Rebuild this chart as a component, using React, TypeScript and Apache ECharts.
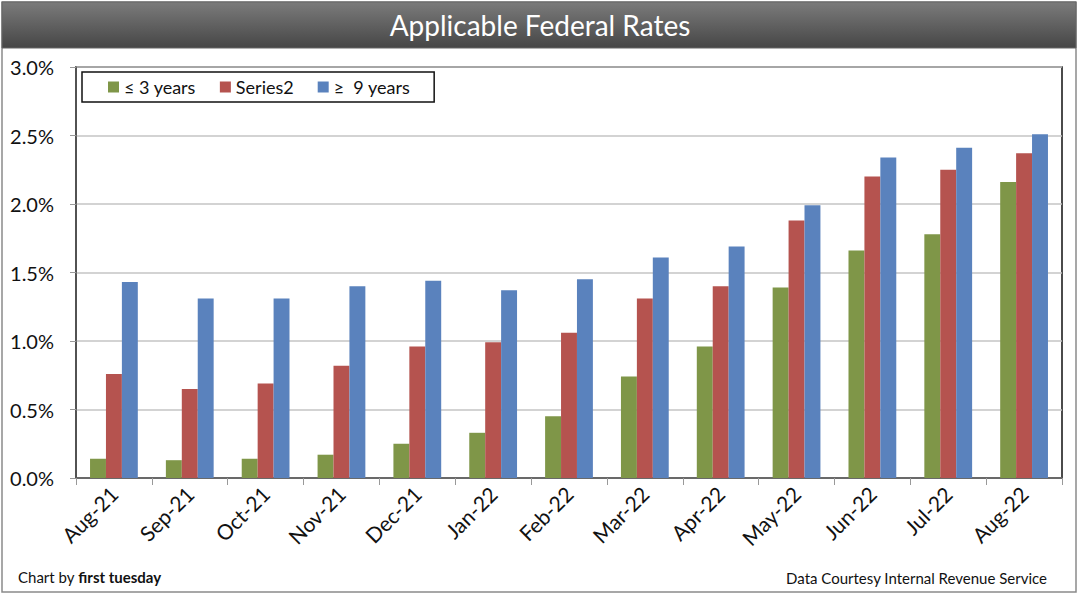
import React, { useEffect, useRef } from "react";
import * as echarts from "echarts";

const categories = ["Aug-21", "Sep-21", "Oct-21", "Nov-21", "Dec-21", "Jan-22", "Feb-22", "Mar-22", "Apr-22", "May-22", "Jun-22", "Jul-22", "Aug-22"];
const shortTerm = [0.14, 0.13, 0.14, 0.17, 0.25, 0.33, 0.45, 0.74, 0.96, 1.39, 1.66, 1.78, 2.16];
const midTerm = [0.76, 0.65, 0.69, 0.82, 0.96, 0.99, 1.06, 1.31, 1.40, 1.88, 2.20, 2.25, 2.37];
const longTerm = [1.43, 1.31, 1.31, 1.40, 1.44, 1.37, 1.45, 1.61, 1.69, 1.99, 2.34, 2.41, 2.51];
const seriesNames = ["≤ 3 years", "Series2", "≥  9 years"];
const colors = ["#7f9648", "#b5534f", "#5a82bd"];

const FONT = "Lato, 'Open Sans', sans-serif";

export default function App() {
  const ref = useRef<HTMLDivElement>(null);
  useEffect(() => {
    document.body.style.margin = "0";
    const chart = echarts.init(ref.current!, null, { renderer: "svg" });
    const data = [shortTerm, midTerm, longTerm];
    chart.setOption({
      animation: false,
      backgroundColor: "#ffffff",
      textStyle: { fontFamily: FONT },
      grid: { left: 76, right: 18, top: 67, bottom: 118, show: true, borderColor: "#111", borderWidth: 1.5, backgroundColor: "transparent" },
      legend: {
        left: 82,
        top: 72,
        itemWidth: 11,
        itemHeight: 11,
        itemGap: 24,
        padding: [6, 24, 6, 26],
        borderColor: "#111",
        borderWidth: 1.5,
        backgroundColor: "#fff",
        icon: "rect",
        textStyle: { fontSize: 18, color: "#111", fontFamily: FONT },
        data: seriesNames,
      },
      xAxis: {
        type: "category",
        data: categories,
        axisLine: { lineStyle: { color: "#555", width: 1.5 } },
        axisTick: { show: true, length: 7, lineStyle: { color: "#999" } },
        axisLabel: { rotate: 45, fontSize: 21, color: "#111", margin: 12, interval: 0, fontFamily: FONT },
      },
      yAxis: {
        type: "value",
        min: 0,
        max: 3,
        interval: 0.5,
        axisLine: { show: true, lineStyle: { color: "#555", width: 1.5 } },
        axisTick: { show: true, length: 6, lineStyle: { color: "#999" } },
        splitLine: { lineStyle: { color: "#c4c4c4", width: 1.5 } },
        axisLabel: { fontSize: 20, color: "#111", margin: 22, formatter: (v: number) => v.toFixed(1) + "%", fontFamily: FONT },
      },
      series: seriesNames.map((name, i) => ({
        name,
        type: "bar",
        data: data[i],
        barGap: "0%",
        barCategoryGap: "37%",
        itemStyle: { color: colors[i] },
      })),
      graphic: [
        {
          type: "rect",
          z: 100,
          shape: { x: 2, y: 2, width: 1074, height: 46 },
          style: {
            fill: new echarts.graphic.LinearGradient(0, 0, 0, 1, [
              { offset: 0, color: "#7b7b7b" },
              { offset: 1, color: "#464646" },
            ]),
            stroke: "#666",
            lineWidth: 1,
          },
        },
        {
          type: "text",
          z: 101,
          x: 540,
          y: 25,
          style: { text: "Applicable Federal Rates", fill: "#fff", font: `28px ${FONT}`, align: "center", verticalAlign: "middle" },
        },
        {
          type: "rect",
          z: 99,
          shape: { x: 2, y: 2, width: 1074, height: 590 },
          style: { fill: "none", stroke: "#8a8a8a", lineWidth: 1.5 },
        },
        {
          type: "text",
          z: 101,
          x: 18,
          y: 577,
          style: {
            text: "{n|Chart by }{b|first tuesday}",
            verticalAlign: "middle",
            rich: {
              n: { fontSize: 15, fontFamily: FONT, fill: "#111" },
              b: { fontSize: 15, fontFamily: FONT, fontWeight: "bold", fill: "#111" },
            },
          },
        },
        {
          type: "text",
          z: 101,
          x: 1047,
          y: 578,
          style: { text: "Data Courtesy Internal Revenue Service", fill: "#111", font: `15px ${FONT}`, align: "right", verticalAlign: "middle" },
        },
      ],
    });
    return () => chart.dispose();
  }, []);
  return <div ref={ref} style={{ width: 1080, height: 596 }} />;
}
